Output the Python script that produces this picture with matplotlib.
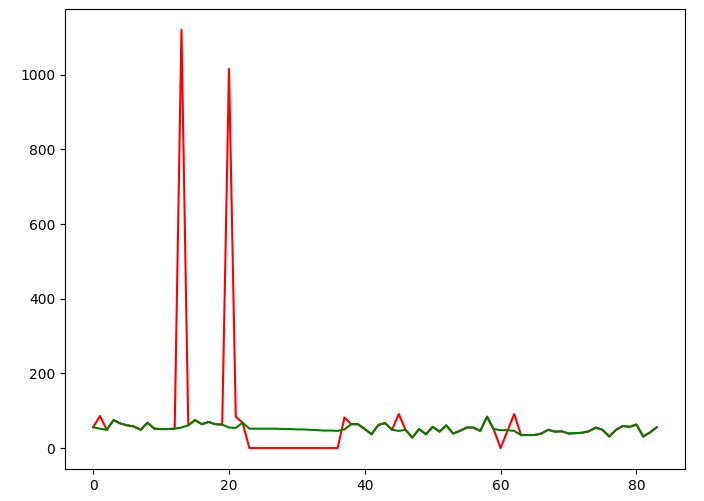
import matplotlib
matplotlib.use("Agg")
import matplotlib.pyplot as plt

# values, index 0..83
red_vals = [56, 86, 49, 75, 66, 61, 58, 49, 68, 52,
            51, 51, 52, 1120, 61, 75, 64, 70, 64, 63,
            1016, 84, 68, 0, 0, 0, 0, 0, 0, 0,
            0, 0, 0, 0, 0, 0, 0, 82, 64, 64,
            51, 37, 62, 67, 49, 91, 49, 28, 51, 37,
            57, 44, 61, 39, 46, 55, 55, 46, 84, 49,
            0, 46, 91, 35, 35, 35, 39, 49, 44, 45,
            39, 40, 41, 45, 55, 49, 31, 49, 59, 57,
            63, 31, 42, 56]

green_vals = [56, 52, 49, 75, 66, 61, 58, 49, 68, 52,
              51, 51, 52, 55, 61, 75, 64, 70, 64, 63,
              55, 54, 68, 52, 52, 52, 52, 52, 51, 51,
              50, 50, 49, 48, 47, 47, 46, 50, 64, 64,
              51, 37, 62, 67, 49, 46, 49, 28, 51, 37,
              57, 44, 61, 39, 46, 55, 55, 46, 84, 51,
              48, 48, 46, 35, 35, 35, 39, 49, 44, 45,
              39, 40, 41, 45, 55, 49, 31, 49, 59, 57,
              63, 31, 42, 56]

x = list(range(len(red_vals)))

fig = plt.figure(figsize=(7.04, 5.01), dpi=100)
ax = fig.add_axes([65 / 704, 1 - 469 / 501, 620 / 704, 460 / 501])

ax.plot(x, red_vals, color='red')
ax.plot(x, green_vals, color='green')

fig.savefig('out.png', dpi=100)
